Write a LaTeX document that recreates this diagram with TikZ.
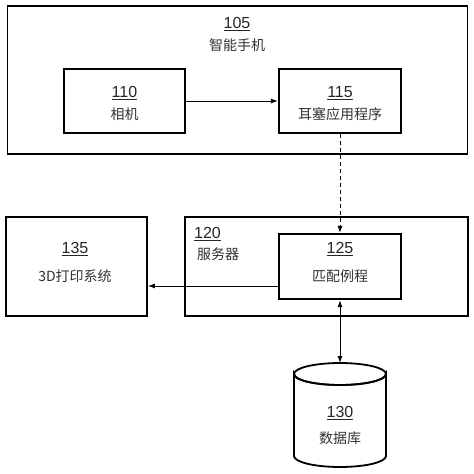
\documentclass[tikz,border=0pt]{standalone}
\usepackage{fontspec}
\setmainfont{Liberation Sans}
\newfontfamily\cjk{Noto Sans CJK SC}
\usetikzlibrary{arrows.meta}
\begin{document}
\begin{tikzpicture}[x=1pt,y=-1pt,
  outerbox/.style={draw, line width=1.8pt, rectangle, inner sep=0pt},
  innerbox/.style={draw, line width=2.2pt, rectangle, inner sep=0pt},
  num/.style={font=\fontsize{16}{18}\selectfont, text=black!85, inner sep=0pt},
  zh/.style={font=\cjk\fontsize{14}{16}\selectfont, text=black!80, inner sep=0pt},
  arr/.style={line width=1pt, -{Latex[length=7pt,width=5pt]}},
  darr/.style={line width=1pt, {Latex[length=7pt,width=5pt]}-{Latex[length=7pt,width=5pt]}},
  dasharr/.style={line width=1pt, dash pattern=on 4pt off 3pt, -{Latex[length=7pt,width=5pt]}}
]
\useasboundingbox[fill=white] (0,0) rectangle (474,474);

% smartphone
\node[outerbox, minimum width=460pt, minimum height=148pt] (b105) at (237.5,80) {};
\node[num] (t105) at (237,24) {\underline{105}};
\node[zh] (s105) at (237,45) {智能手机};

\node[innerbox, minimum width=121pt, minimum height=64pt] (b110) at (124.5,101) {};
\node[num] (t110) at (124.5,93) {\underline{110}};
\node[zh] (s110) at (124.5,114) {相机};

\node[innerbox, minimum width=122pt, minimum height=64pt] (b115) at (340,101) {};
\node[num] (t115) at (340,93) {\underline{115}};
\node[zh] (s115) at (340,114) {耳塞应用程序};

% 3D printing
\node[outerbox, minimum width=141pt, minimum height=99pt] (b135) at (76.5,266.5) {};
\node[num] (t135) at (75,249) {\underline{135}};
\node[zh] (s135) at (75,276) {3D打印系统};

% server
\node[outerbox, minimum width=283pt, minimum height=99pt] (b120) at (326.5,266.5) {};
\node[num, anchor=west] (t120) at (194,234) {\underline{120}};
\node[zh, anchor=west] (s120) at (197,254) {服务器};

\node[innerbox, minimum width=122pt, minimum height=65pt] (b125) at (340,266.5) {};
\node[num] (t125) at (340,249) {\underline{125}};
\node[zh] (s125) at (340,276) {匹配例程};

% database cylinder
\draw[line width=1.8pt] (294,374) arc[start angle=180, end angle=360, x radius=46pt, y radius=11pt]
  -- (386,456) arc[start angle=0, end angle=-180, x radius=46pt, y radius=11pt] -- cycle;
\draw[line width=1.8pt] (340,374) ellipse[x radius=46pt, y radius=11pt];
\coordinate (dbtop) at (340,363);
\node[num] (t130) at (340,413) {\underline{130}};
\node[zh] (s130) at (340,438) {数据库};

% connectors
\draw[arr] (b110.east) -- (b115.west);
\draw[dasharr] (b115.south) -- (b125.north);
\draw[arr] (b125.west |- 0,286) -- (b135.east |- 0,286);
\draw[darr] (b125.south) -- (dbtop);
\end{tikzpicture}
\end{document}
